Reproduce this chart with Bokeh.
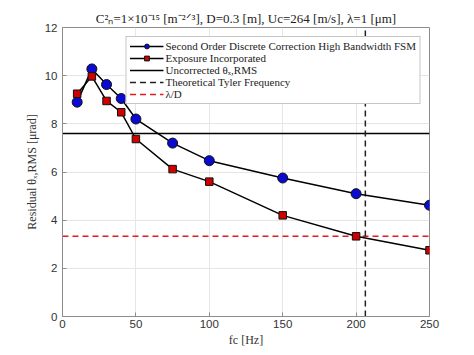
from bokeh.plotting import figure
from bokeh.models import Legend, LegendItem, FixedTicker, Range1d
from bokeh.embed import file_html
from bokeh.resources import INLINE

# ---- data ----
fc = [10, 20, 30, 40, 50, 75, 100, 150, 200, 250]
second_order = [8.9, 10.28, 9.63, 9.05, 8.2, 7.2, 6.47, 5.75, 5.1, 4.62]
exposure = [9.25, 9.97, 8.95, 8.48, 7.37, 6.12, 5.6, 4.2, 3.33, 2.75]
uncorrected = 7.6
lambda_over_d = 3.33
tyler_freq = 206.3
x_limits = [0, 250]
y_limits = [0, 12]
x_ticks = [0, 50, 100, 150, 200, 250]
y_ticks = [0, 2, 4, 6, 8, 10, 12]

title = "C\u00b2\u2099=1\u00d710\u207b\u00b9\u2075 [m\u207b\u00b2\u141f\u00b3], D=0.3 [m], Uc=264 [m/s], \u03bb=1 [\u03bcm]"

SERIF = "Liberation Serif"
SANS = "Liberation Sans"
AXC = "#8c8c8c"

p = figure(width=470, height=351, output_backend="svg", toolbar_location=None,
           x_range=Range1d(*x_limits), y_range=Range1d(*y_limits),
           min_border_left=62, min_border_right=41, min_border_top=27, min_border_bottom=35)

p.title.text = title
p.title.align = "center"
p.title.text_font = SERIF
p.title.text_font_size = "13px"
p.title.text_font_style = "normal"
p.title.text_color = "#222222"
p.title.standoff = 3

xax = p.below[0]
yax = p.left[0]

for ax in (xax, yax):
    ax.major_tick_in = 4
    ax.major_tick_out = 0
    ax.minor_tick_in = 0
    ax.minor_tick_out = 0
    ax.axis_line_color = AXC
    ax.major_tick_line_color = AXC
    ax.major_label_text_font = SANS
    ax.major_label_text_font_size = "11.5px"
    ax.major_label_text_color = "#333333"
    ax.axis_label_text_font = SERIF
    ax.axis_label_text_font_size = "12px"
    ax.axis_label_text_font_style = "normal"
    ax.axis_label_text_color = "#333333"

xax.ticker = FixedTicker(ticks=x_ticks)
yax.ticker = FixedTicker(ticks=y_ticks)
xax.axis_label = "fc [Hz]"
yax.axis_label = "Residual \u03b8\u2093,RMS [\u03bcrad]"
xax.major_label_standoff = 3
yax.major_label_standoff = 5
xax.axis_label_standoff = 2
yax.axis_label_standoff = 3

p.xgrid.ticker = FixedTicker(ticks=x_ticks)
p.ygrid.ticker = FixedTicker(ticks=y_ticks)
p.grid.grid_line_color = "#e6e6e6"
p.outline_line_color = AXC
p.outline_line_alpha = 1.0
p.background_fill_color = "white"
p.border_fill_color = "white"

# reference lines
r_unc = p.line(x=x_limits, y=[uncorrected, uncorrected], line_color="black", line_width=1.5)
r_lam = p.line(x=x_limits, y=[lambda_over_d, lambda_over_d], line_color="#e8191f",
               line_width=1.5, line_dash="6 4")
r_tyl = p.line(x=[tyler_freq, tyler_freq], y=y_limits, line_color="#222222",
               line_width=1.5, line_dash="6 4")

# series
l1 = p.line(fc, second_order, line_color="black", line_width=1.5)
s1 = p.scatter(fc, second_order, marker="circle", size=10, fill_color="#0a0ad0",
               line_color="#111111", line_width=1)
l2 = p.line(fc, exposure, line_color="black", line_width=1.5)
s2 = p.scatter(fc, exposure, marker="square", size=7.5, fill_color="#d00000",
               line_color="#111111", line_width=1)

legend = Legend(items=[
    LegendItem(label="Second Order Discrete Correction High Bandwidth FSM", renderers=[l1, s1]),
    LegendItem(label="Exposure Incorporated", renderers=[l2, s2]),
    LegendItem(label="Uncorrected \u03b8\u2093,RMS", renderers=[r_unc]),
    LegendItem(label="Theoretical Tyler Frequency", renderers=[r_tyl]),
    LegendItem(label="\u03bb/D", renderers=[r_lam]),
], location="top_right")
legend.margin = 9
legend.padding = 3
legend.spacing = 0
legend.glyph_width = 34
legend.glyph_height = 12
legend.label_height = 12
legend.label_standoff = 2
legend.label_text_font = SERIF
legend.label_text_font_size = "11px"
legend.label_text_color = "#222222"
legend.border_line_color = AXC
legend.border_line_width = 1
legend.background_fill_alpha = 1.0
p.add_layout(legend, "center")

open("out.html", "w").write(file_html(p, INLINE))
